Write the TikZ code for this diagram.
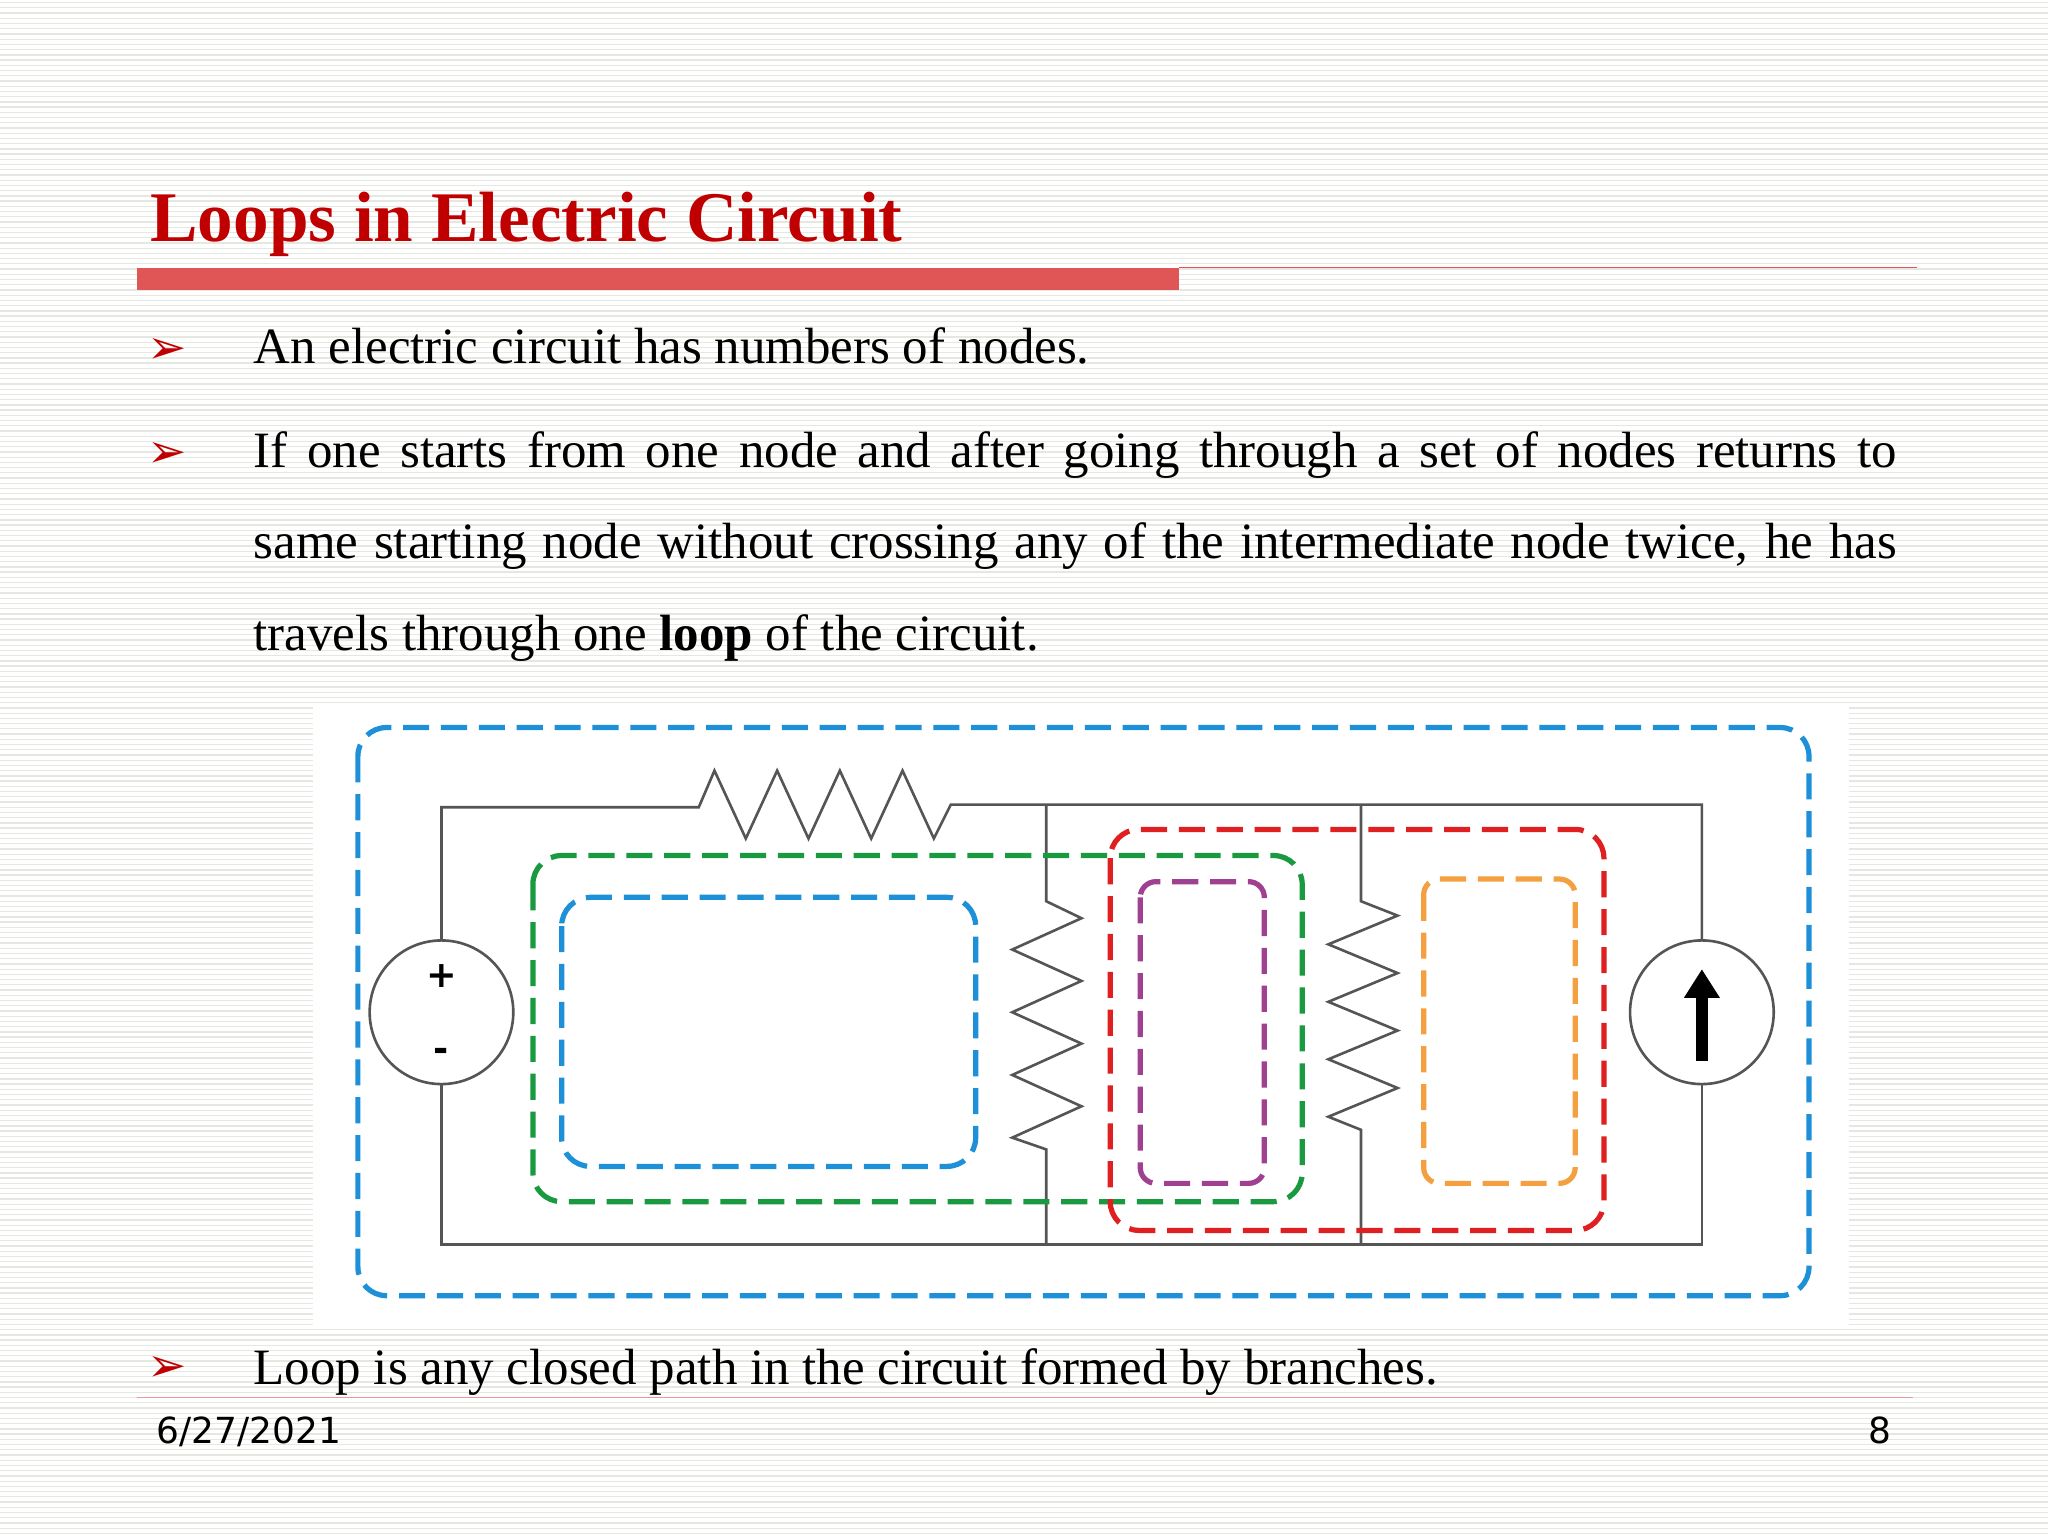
\documentclass[tikz,border=0pt]{standalone}
\usepackage{fontspec}
\setmainfont{Liberation Serif}
\newfontfamily\dejavu{DejaVu Sans}
\usetikzlibrary{arrows.meta}
\definecolor{ttlred}{HTML}{C00000}
\definecolor{barred}{HTML}{E05555}
\definecolor{lblue}{HTML}{1E90D8}
\definecolor{lgreen}{HTML}{1A9A40}
\definecolor{lred}{HTML}{E02020}
\definecolor{lpurple}{HTML}{A04090}
\definecolor{lorange}{HTML}{F5A040}
\definecolor{wire}{HTML}{555555}
\definecolor{bgline}{HTML}{E4E8E0}
\tikzset{
 loopbox/.style={line width=4pt,dash pattern=on 20pt off 9pt,rounded corners=22pt},
 wirel/.style={wire,line width=2pt},
 bullet/.style={anchor=base,text=ttlred,font=\dejavu\fontsize{36}{36}\selectfont},
 body/.style={anchor=base west,font=\fontsize{39}{39}\selectfont,inner sep=0pt},
 src/.style={circle,draw=wire,line width=2pt,minimum size=110pt,inner sep=0pt}
}
\begin{document}
\begin{tikzpicture}[x=1pt,y=-1pt]
\useasboundingbox (0,0) rectangle (1568,1176);
\fill[white] (0,0) rectangle (1568,1176);
\foreach \y in {2,6,...,1176} \draw[bgline,line width=1pt] (0,\y) -- (1568,\y);
% title
\node[anchor=base west,inner sep=0pt,text=ttlred,font=\bfseries\fontsize{54.5}{54.5}\selectfont] (title) at (115,185) {Loops in Electric Circuit};
\fill[barred] (105,205) rectangle (903,222);
\draw[barred,line width=1pt] (903,205) -- (1468,205);
% bullets
\node[bullet] (b1) at (128,278) {➢};
\node[body] (t1) at (194,278) {An electric circuit has numbers of nodes.};
\node[bullet] (b2) at (128,358) {➢};
\node[body,anchor=north west,text width=1258pt,align=justify,font=\fontsize{39}{70}\selectfont] (t2) at (194,330) {If one starts from one node and after going through a set of nodes returns to\linebreak same starting node without crossing any of the intermediate node twice, he has\linebreak travels through one \textbf{loop} of the circuit.};
\node[bullet] (b3) at (128,1058) {➢};
\node[body] (t3) at (194,1060) {Loop is any closed path in the circuit formed by branches.};
% footer
\draw[barred!60,line width=1pt] (105,1070) -- (1465,1070);
\node[anchor=base west,inner sep=0pt,font=\dejavu\fontsize{27.5}{27.5}\selectfont] (date) at (120,1105) {6/27/2021};
\node[anchor=base east,inner sep=0pt,font=\dejavu\fontsize{27.5}{27.5}\selectfont] (pg) at (1448,1105) {8};
% circuit
\fill[white] (240,540) rectangle (1416,1015);
\node[src] (vs) at (338,775) {};
\node[src] (cs) at (1303,775) {};
\node[font=\dejavu\bfseries\fontsize{28}{28}\selectfont,inner sep=0pt] (plus) at (338,747) {+};
\node[font=\dejavu\bfseries\fontsize{28}{28}\selectfont,inner sep=0pt] (minus) at (338,808) {-};
\draw[black,line width=9pt,-{Triangle[length=22pt,width=26pt]}] (1303,812) -- (1303,742);
\coordinate (tl) at (338,618);
\coordinate (bl) at (338,953);
\coordinate (tr) at (1303,616);
\coordinate (br) at (1303,953);
\draw[wirel] (vs.north) -- (tl) -- (535,618) -- (547,590) -- (571,642) -- (595,590) -- (619,642) -- (643,590) -- (667,642) -- (691,590) -- (715,642) -- (728,616) -- (tr) -- (cs.north);
\draw[wirel] (vs.south) -- (bl) -- (br) -- (cs.south);
\draw[wirel] (801,616) -- (801,690) -- (828,703) -- (775,727) -- (828,751) -- (775,775) -- (828,799) -- (775,823) -- (828,847) -- (775,871) -- (801,880) -- (801,953);
\draw[wirel] (1042,616) -- (1042,690) -- (1070,701) -- (1017,723) -- (1070,745) -- (1017,767) -- (1070,789) -- (1017,811) -- (1070,833) -- (1017,855) -- (1042,865) -- (1042,953);
% loops
\draw[loopbox,lblue] (274,557) rectangle (1385,992);
\draw[loopbox,lblue] (430,687) rectangle (747,893);
\draw[loopbox,lgreen] (408,655) rectangle (997,920);
\draw[loopbox,lred] (850,635) rectangle (1228,942);
\draw[loopbox,lpurple,rounded corners=12pt] (873,675) rectangle (968,906);
\draw[loopbox,lorange,rounded corners=12pt] (1090,673) rectangle (1206,906);
\end{tikzpicture}
\end{document}
